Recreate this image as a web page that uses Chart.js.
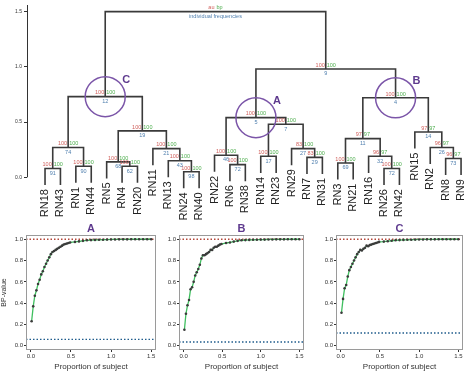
<!DOCTYPE html>
<html>
<head>
<meta charset="utf-8">
<script src="https://cdn.jsdelivr.net/npm/chart.js@4.4.1/dist/chart.umd.min.js"></script>
<style>
body{margin:0;background:#fff;width:474px;height:372px;position:relative;overflow:hidden}
canvas{position:absolute}
</style>
</head>
<body>
<canvas id="tree" width="474" height="232" style="left:0;top:0;width:474px;height:232px"></canvas>
<canvas id="bpA" width="160" height="150" style="left:0;top:222px;width:160px;height:150px"></canvas>
<canvas id="bpB" width="150" height="150" style="left:160px;top:222px;width:150px;height:150px"></canvas>
<canvas id="bpC" width="164" height="150" style="left:310px;top:222px;width:164px;height:150px"></canvas>
<script>
'use strict'

const FONT = '"Liberation Sans", Arial, sans-serif'

// dendrogram
const leaves = ['RN18','RN43','RN1','RN44','RN5','RN4','RN20','RN11','RN13','RN24','RN40','RN22','RN6','RN38',
  'RN14','RN23','RN29','RN7','RN31','RN3','RN21','RN16','RN26','RN42','RN15','RN2','RN8','RN9']
// hclust style: negative = leaf (1-based), positive = earlier merge (1-based)
const mergeLeft  = [-10,-1,-23,-3,-6,-13,-20,-5,-9,-27,-18,-15,-22,-12,-8,-17,2,-26,7,-25,8,12,14,19,17,23,25]
const mergeRight = [-11,-2,-24,-4,-7,-14,-21,5,1,-28,-19,-16,3,6,9,11,4,10,13,18,15,16,22,20,21,24,26]
const heights = [0.05,0.08,0.08,0.10,0.10,0.115,0.13,0.14,0.15,0.17,0.18,0.19,0.19,0.20,0.26,0.26,0.27,0.27,0.35,0.41,0.42,0.48,0.54,0.72,0.73,0.98,1.50]
const auValues = [100,100,100,100,100,100,100,100,100,96,83,100,96,100,100,83,100,96,97,97,100,100,100,100,100,100,null]
const bpValues = [100,100,100,100,100,100,100,100,100,97,100,100,97,100,100,100,100,97,97,97,100,100,100,100,100,100,null]
const freqValues = [98,91,72,90,62,72,69,68,43,73,29,17,32,46,21,27,74,26,11,14,19,7,5,4,12,9,null]
const treeTicks = [0, 0.5, 1.0, 1.5]
const circleNames = ['A','B','C']
const circleMerges = [23,24,25]
const hang = 0.15

// bootstrap curves
const propX = [0.01,0.03,0.05,0.07,0.09,0.11,0.13,0.15,0.17,0.19,0.21,0.23,0.25,0.27,0.29,0.31,0.33,0.35,0.37,0.39,0.41,0.43,0.45,0.47,0.49,
  0.55,0.60,0.65,0.70,0.75,0.80,0.85,0.90,0.95,1.00,1.05,1.10,1.15,1.20,1.25,1.30,1.35,1.40,1.45,1.50]
const bpA = [0.23,0.37,0.47,0.52,0.58,0.62,0.67,0.70,0.74,0.77,0.80,0.83,0.86,0.88,0.89,0.90,0.91,0.92,0.93,0.94,0.95,0.955,0.96,0.965,0.97,
  0.975,0.98,0.985,0.99,0.992,0.994,0.995,0.996,0.997,0.998,0.998,0.999,0.999,0.999,1,1,1,1,1,1]
const bpB = [0.15,0.30,0.38,0.43,0.53,0.55,0.60,0.66,0.69,0.72,0.76,0.82,0.85,0.85,0.86,0.87,0.88,0.90,0.90,0.92,0.93,0.93,0.94,0.95,0.955,
  0.965,0.97,0.978,0.985,0.99,0.992,0.994,0.995,0.996,0.997,0.997,0.998,0.998,0.999,0.999,0.999,1,1,1,1]
const bpC = [0.31,0.44,0.54,0.57,0.65,0.71,0.74,0.77,0.80,0.83,0.86,0.88,0.90,0.895,0.91,0.92,0.94,0.935,0.945,0.95,0.955,0.96,0.965,0.97,0.975,
  0.978,0.982,0.986,0.99,0.992,0.994,0.995,0.996,0.997,0.998,0.998,0.999,0.999,0.999,1,1,1,1,1,1]
const lowerLines = [0.06, 0.035, 0.12]
const propTicks = [0, 0.5, 1.0, 1.5]
const bpTicks = [0, 0.2, 0.4, 0.6, 0.8, 1.0]

// build tree geometry
const nodeX = []
const leafBottom = []
const xOf = c => c < 0 ? -c - 1 : nodeX[c - 1]
const treeSets = []
for (let k = 0; k < heights.length; k++) {
  const h = heights[k]
  const l = mergeLeft[k], r = mergeRight[k]
  const yl = l < 0 ? h - hang : heights[l - 1]
  const yr = r < 0 ? h - hang : heights[r - 1]
  if (l < 0) leafBottom[-l - 1] = yl
  if (r < 0) leafBottom[-r - 1] = yr
  const xl = xOf(l), xr = xOf(r)
  nodeX.push((xl + xr) / 2)
  treeSets.push({
    data: [{x: xl, y: yl}, {x: xl, y: h}, {x: xr, y: h}, {x: xr, y: yr}],
    borderColor: '#3a3a3a', borderWidth: 1.6, pointRadius: 0, tension: 0, fill: false
  })
}

const treeLabels = {
  id: 'treeLabels',
  afterDatasetsDraw(chart) {
    const ctx = chart.ctx
    const xs = chart.scales.x, ys = chart.scales.y
    ctx.save()
    // axis line
    ctx.strokeStyle = '#333'
    ctx.lineWidth = 1
    ctx.beginPath()
    ctx.moveTo(chart.chartArea.left + 0.5, ys.getPixelForValue(1.56))
    ctx.lineTo(chart.chartArea.left + 0.5, ys.getPixelForValue(0))
    ctx.stroke()
    // au / bp / frequency labels
    ctx.font = '5.5px ' + FONT
    heights.forEach((h, k) => {
      const px = xs.getPixelForValue(nodeX[k])
      const py = ys.getPixelForValue(h)
      const au = auValues[k] == null ? 'au' : String(auValues[k])
      const bp = bpValues[k] == null ? 'bp' : String(bpValues[k])
      ctx.textBaseline = 'bottom'
      ctx.textAlign = 'right'
      ctx.fillStyle = '#d0605c'
      ctx.fillText(au, px - 1, py - 1)
      ctx.textAlign = 'left'
      ctx.fillStyle = '#4fae4f'
      ctx.fillText(bp, px + 1, py - 1)
      ctx.textAlign = 'center'
      ctx.textBaseline = 'top'
      ctx.fillStyle = '#4f7fae'
      ctx.fillText(freqValues[k] == null ? 'individual frequencies' : String(freqValues[k]), px, py + 2)
    })
    // circled clusters
    circleMerges.forEach((m, i) => {
      const px = xs.getPixelForValue(nodeX[m - 1])
      const py = ys.getPixelForValue(heights[m - 1])
      ctx.strokeStyle = '#7b55a8'
      ctx.lineWidth = 1.5
      ctx.beginPath()
      ctx.arc(px, py, 20, 0, Math.PI * 2)
      ctx.stroke()
      ctx.fillStyle = '#5e3a8e'
      ctx.font = 'bold 11px ' + FONT
      ctx.textAlign = 'center'
      ctx.textBaseline = 'middle'
      ctx.fillText(circleNames[i], px + 21, py - 17)
    })
    // leaf labels
    ctx.fillStyle = '#222'
    ctx.font = '11px ' + FONT
    leaves.forEach((name, i) => {
      const px = xs.getPixelForValue(i)
      const py = ys.getPixelForValue(leafBottom[i]) + 4
      ctx.save()
      ctx.translate(px, py)
      ctx.rotate(-Math.PI / 2)
      ctx.textAlign = 'right'
      ctx.textBaseline = 'middle'
      ctx.fillText(name, 0, 0)
      ctx.restore()
    })
    ctx.restore()
  }
}

new Chart(document.getElementById('tree'), {
  type: 'line',
  data: {datasets: treeSets},
  options: {
    responsive: false, animation: false,
    layout: {padding: {top: 3, right: 0, bottom: 0, left: 0}},
    plugins: {legend: {display: false}, tooltip: {enabled: false}},
    scales: {
      x: {type: 'linear', display: false, min: -1.17, max: 27.84},
      y: {
        type: 'linear', min: -0.45, max: 1.56,
        afterBuildTicks: s => { s.ticks = treeTicks.map(v => ({value: v})) },
        afterFit: s => { s.width = 27 },
        border: {display: false},
        grid: {drawOnChartArea: false, tickLength: 3, color: '#333'},
        ticks: {font: {size: 5, family: FONT}, color: '#333', padding: 2, callback: v => Number(v).toFixed(1)}
      }
    }
  },
  plugins: [treeLabels]
})

// bootstrap panels
const panelDeco = {
  id: 'panelDeco',
  afterDatasetsDraw(chart) {
    const {ctx, chartArea: a} = chart
    ctx.save()
    ctx.strokeStyle = '#9a9a9a'
    ctx.lineWidth = 1
    ctx.strokeRect(a.left + 0.5, a.top + 0.5, a.right - a.left - 1, a.bottom - a.top - 1)
    ctx.fillStyle = '#5e3a8e'
    ctx.font = 'bold 11px ' + FONT
    ctx.textAlign = 'center'
    ctx.textBaseline = 'middle'
    ctx.fillText(chart.options.plugins.panelDeco.title, (a.left + a.right) / 2, a.top - 6)
    ctx.restore()
  }
}

function makePanel(id, title, values, lower, yWidth, rightPad, yTitle) {
  new Chart(document.getElementById(id), {
    type: 'line',
    data: {
      datasets: [
        {data: [{x: -0.06, y: lower}, {x: 1.56, y: lower}], borderColor: '#1f5c8c', borderWidth: 1.4,
          borderDash: [1.5, 2], pointRadius: 0},
        {data: propX.map((x, i) => ({x: x, y: values[i]})), borderColor: '#3fbf5f', borderWidth: 1.3,
          pointRadius: 1.3, pointBackgroundColor: '#3b3b3b', pointBorderWidth: 0, tension: 0},
        {data: [{x: -0.06, y: 1}, {x: 1.56, y: 1}], borderColor: '#b4473b', borderWidth: 1.4,
          borderDash: [1.5, 2], pointRadius: 0}
      ]
    },
    options: {
      responsive: false, animation: false,
      layout: {padding: {top: 13, right: rightPad, bottom: 0, left: 0}},
      plugins: {legend: {display: false}, tooltip: {enabled: false}, panelDeco: {title: title}},
      scales: {
        x: {
          type: 'linear', min: -0.06, max: 1.56,
          afterBuildTicks: s => { s.ticks = propTicks.map(v => ({value: v})) },
          afterFit: s => { s.height = 22 },
          border: {display: false},
          grid: {drawOnChartArea: false, tickLength: 2, color: '#333'},
          ticks: {font: {size: 6, family: FONT}, color: '#333', padding: 1, maxRotation: 0,
            callback: v => Number(v).toFixed(1)},
          title: {display: true, text: 'Proportion of subject', font: {size: 8, family: FONT}, color: '#333', padding: 0}
        },
        y: {
          type: 'linear', min: -0.04, max: 1.04,
          afterBuildTicks: s => { s.ticks = bpTicks.map(v => ({value: v})) },
          afterFit: s => { s.width = yWidth },
          border: {display: false},
          grid: {drawOnChartArea: false, tickLength: 2, color: '#333'},
          ticks: {font: {size: 6, family: FONT}, color: '#333', padding: 1, callback: v => Number(v).toFixed(1)},
          title: {display: yTitle, text: 'BP-value', font: {size: 7, family: FONT}, color: '#333', padding: 0}
        }
      }
    },
    plugins: [panelDeco]
  })
}

makePanel('bpA', 'A', bpA, lowerLines[0], 26, 4, true)
makePanel('bpB', 'B', bpB, lowerLines[1], 19, 6, false)
makePanel('bpC', 'C', bpC, lowerLines[2], 26, 11, false)
</script>
</body>
</html>
